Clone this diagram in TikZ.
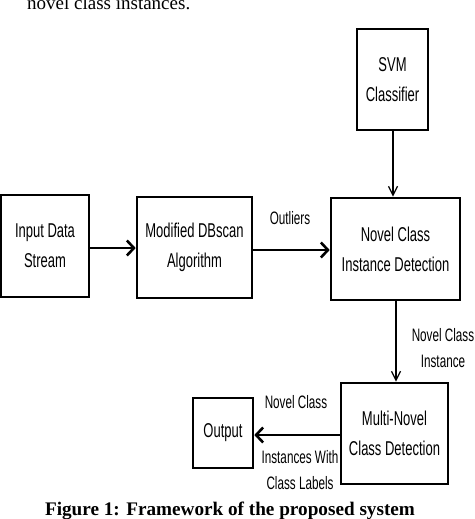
\documentclass[tikz,border=0pt]{standalone}
\usepackage{fontspec}
\setmainfont{Liberation Serif}
\newfontfamily\boxfont[FakeStretch=0.65]{Liberation Sans}
\usetikzlibrary{arrows.meta}
\tikzset{
  blk/.style={draw=black, line width=2.6pt, inner sep=0pt, align=center,
    font=\boxfont\fontsize{20}{30}\selectfont},
  lbl/.style={inner sep=0pt, align=center, font=\boxfont\fontsize{18}{26}\selectfont},
  thickarrow/.style={line width=2.8pt, -{Straight Barb[length=7pt,width=15pt,line width=2.6pt]}},
  thinarrow/.style={line width=1.3pt, -{Straight Barb[length=9pt,width=9pt,line width=1.3pt]}}
}
\begin{document}
\begin{tikzpicture}[x=1pt,y=-1pt]
\useasboundingbox (0,0) rectangle (474,519);
\node[anchor=base west, inner sep=0pt, font=\fontsize{19}{22}\selectfont] (top) at (27,10) {novel class instances.};
\node[blk, minimum width=88pt, minimum height=102pt] (inp) at (45,246) {Input Data\\Stream};
\node[blk, minimum width=115pt, minimum height=101pt] (dbs) at (194.5,247.5) {Modified DBscan\\Algorithm};
\node[blk, minimum width=129pt, minimum height=102pt] (nov) at (395.5,249) {Novel Class\\Instance Detection};
\node[blk, minimum width=71pt, minimum height=101pt] (svm) at (392.5,79.5) {SVM\\Classifier};
\node[blk, minimum width=107pt, minimum height=101pt] (mul) at (394.5,433.5) {Multi-Novel\\Class Detection};
\node[blk, minimum width=60pt, minimum height=70pt] (out) at (223,433) {Output};
\coordinate (a1s) at (inp.east |- 0,248);
\coordinate (a1e) at (dbs.west |- 0,248);
\draw[thickarrow] (a1s) -- (a1e);
\coordinate (a2s) at (dbs.east |- 0,250);
\coordinate (a2e) at (nov.west |- 0,250);
\draw[thickarrow] (a2s) -- (a2e);
\coordinate (a3s) at (393,0 |- svm.south);
\coordinate (a3e) at (393,0 |- nov.north);
\draw[thinarrow] (a3s) -- (a3e);
\coordinate (a4s) at (396,0 |- nov.south);
\coordinate (a4e) at (396,0 |- mul.north);
\draw[thinarrow] (a4s) -- (a4e);
\coordinate (a5s) at (mul.west |- 0,435);
\coordinate (a5e) at (out.east |- 0,435);
\draw[thickarrow] (a5s) -- (a5e);
\node[lbl] (l1) at (290,218) {Outliers};
\node[lbl] (l2) at (443,348) {Novel Class\\Instance};
\node[lbl] (l3) at (296,402) {Novel Class};
\node[lbl] (l4) at (300,470) {Instances With\\Class Labels};
\node[anchor=base, inner sep=0pt, font=\bfseries\fontsize{19.2}{22}\selectfont] (cap) at (230,515) {Figure 1: Framework of the proposed system};
\end{tikzpicture}
\end{document}
